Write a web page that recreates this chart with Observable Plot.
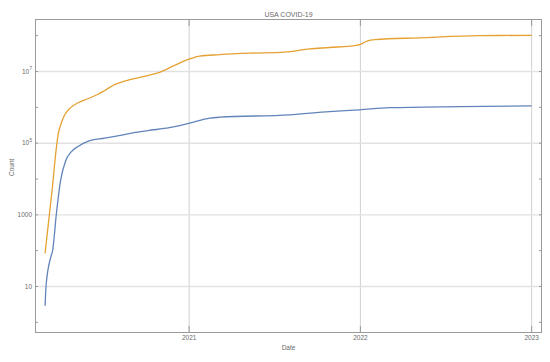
<!DOCTYPE html>
<html>
<head>
<meta charset="utf-8">
<script src="https://cdn.jsdelivr.net/npm/d3@7"></script>
<script src="https://cdn.jsdelivr.net/npm/@observablehq/plot@0.6"></script>
<style>
  html, body { margin: 0; padding: 0; background: #fff; }
  #chart { width: 550px; height: 362px; }
</style>
</head>
<body>
<div id="chart"></div>
<script>
const title = "USA COVID-19";
const xLabel = "Date";
const yLabel = "Count";

const casesDates = ["2020-02-29","2020-03-09","2020-03-17","2020-03-21","2020-03-28","2020-04-03","2020-04-10","2020-04-24","2020-05-09","2020-05-30","2020-06-20","2020-07-05","2020-07-26","2020-08-16","2020-09-13","2020-10-05","2020-10-30","2020-12-01","2021-01-02","2021-01-23","2021-03-07","2021-05-10","2021-07-23","2021-09-15","2021-10-27","2021-12-23","2021-12-30","2022-01-15","2022-02-01","2022-05-07","2022-09-12","2022-12-31"];
const casesValues = [87,1000,9100,32800,182000,347000,590000,1000000,1340000,1740000,2280000,2950000,4330000,5370000,6650000,7700000,9500000,14800000,22400000,26900000,29500000,32400000,34700000,42700000,46800000,53700000,56200000,70800000,77600000,87100000,100000000,102000000];

const deathsDates = ["2020-02-29","2020-03-02","2020-03-12","2020-03-16","2020-03-24","2020-04-02","2020-04-13","2020-04-24","2020-05-09","2020-05-30","2020-07-05","2020-08-16","2020-09-13","2020-10-05","2020-11-20","2021-01-02","2021-02-14","2021-03-07","2021-08-03","2021-10-27","2021-12-30","2022-03-04","2022-07-31","2022-12-31"];
const deathsValues = [3,10.5,66,100,1070,9100,32800,56000,81000,112000,138000,174000,204000,225000,270000,363000,500000,530000,617000,759000,851000,977000,1050000,1100000];

const xTickYears = ["2021-01-01","2022-01-01","2023-01-01"];
const xTickLabels = ["2021","2022","2023"];
const yLabelTicks = [10, 1000, 1e5, 1e7];
const yPlainLabels = ["10", "1000", "", ""];
const yPowerTicks = [1e5, 1e7];
const yPowerExponents = ["5", "7"];
const yMinorTicks = [1, 10, 100, 1000, 1e4, 1e5, 1e6, 1e7, 1e8];
const xDomain = ["2020-02-08T12:00Z", "2023-01-22"];
const yDomain = [0.52, 2.83e8];

const colors = {cases: "#E5A132", deaths: "#6184BA"};

const parse = s => new Date(s);
const cases = casesDates.map((d, i) => ({date: parse(d), value: casesValues[i]}));
const deaths = deathsDates.map((d, i) => ({date: parse(d), value: deathsValues[i]}));
const xTicks = xTickYears.map(parse);
const xFmt = d => xTickLabels[xTicks.findIndex(t => +t === +d)] ?? "";
const yFmt = v => yPlainLabels[yLabelTicks.indexOf(v)] ?? "";
const powers = yPowerTicks.map((v, i) => ({value: v, exp: yPowerExponents[i]}));

const textColor = "#6a6a6a";
const frameColor = "#9a9a9a";

const chart = Plot.plot({
  width: 550,
  height: 362,
  marginLeft: 35,
  marginRight: 9,
  marginTop: 19,
  marginBottom: 30,
  style: {fontFamily: "'Liberation Sans', Arial, sans-serif", fontSize: "6.5px", color: textColor, background: "#fff"},
  x: {type: "utc", domain: xDomain.map(parse)},
  y: {type: "log", domain: yDomain},
  marks: [
    Plot.gridX(xTicks, {stroke: "#d0d0d0", strokeOpacity: 1, strokeWidth: 1}),
    Plot.gridY(yLabelTicks, {stroke: "#e2e2e2", strokeOpacity: 1, strokeWidth: 1.4}),
    Plot.axisX({ticks: xTicks, tickFormat: xFmt, tickSize: 0, tickPadding: 3, label: null, fill: textColor}),
    Plot.axisX({ticks: xTicks, tickFormat: () => "", tickSize: -6, label: null, stroke: frameColor}),
    Plot.axisX({ticks: xTicks, anchor: "top", tickFormat: () => "", tickSize: -6, label: null, stroke: frameColor}),
    Plot.axisY({ticks: yLabelTicks, tickFormat: yFmt, tickSize: 0, tickPadding: 3.5, label: null, fill: textColor}),
    Plot.text(powers, {y: "value", text: () => "10", frameAnchor: "left", dx: -6.3, textAnchor: "end", fontSize: 6.5, fill: textColor}),
    Plot.text(powers, {y: "value", text: "exp", frameAnchor: "left", dx: -3.4, dy: -2.6, textAnchor: "end", fontSize: 4.6, fill: textColor}),
    Plot.axisY({ticks: yMinorTicks, tickFormat: () => "", tickSize: -3, label: null, stroke: frameColor}),
    Plot.axisY({ticks: yMinorTicks, anchor: "right", tickFormat: () => "", tickSize: -3, label: null, stroke: frameColor}),
    Plot.frame({stroke: frameColor, strokeWidth: 1}),
    Plot.line(cases, {x: "date", y: "value", stroke: colors.cases, strokeWidth: 1.3, curve: "monotone-x"}),
    Plot.line(deaths, {x: "date", y: "value", stroke: colors.deaths, strokeWidth: 1.3, curve: "monotone-x"}),
    Plot.text([title], {text: d => d, frameAnchor: "top", dy: -7.5, fontSize: 7, fill: textColor}),
    Plot.text([xLabel], {text: d => d, frameAnchor: "bottom", dy: 17, fontSize: 6.5, fill: textColor}),
    Plot.text([yLabel], {text: d => d, frameAnchor: "left", dx: -23.5, rotate: -90, fontSize: 6.5, fill: textColor})
  ]
});
document.getElementById("chart").appendChild(chart);
</script>
</body>
</html>
